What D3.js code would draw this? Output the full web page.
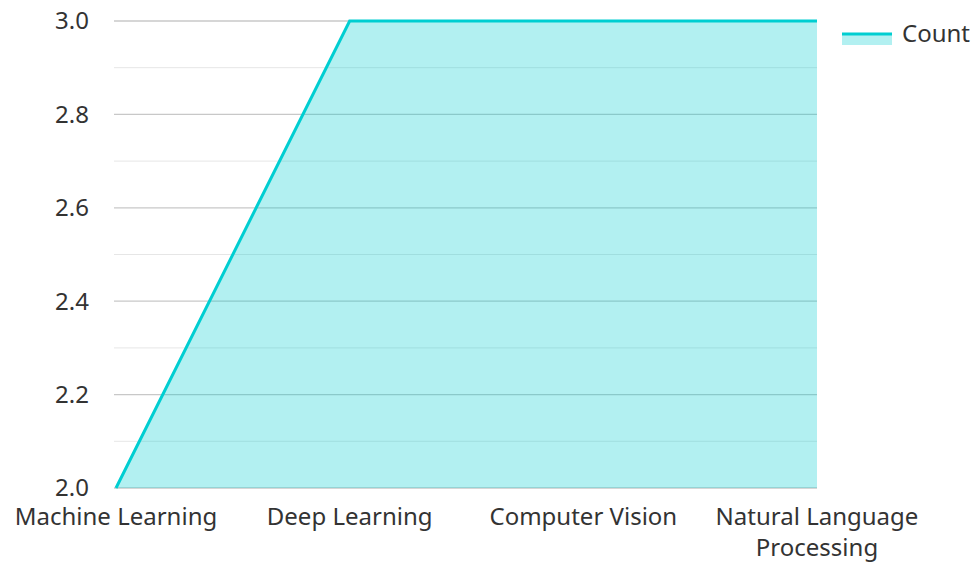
<!DOCTYPE html>
<html>
<head>
<meta charset="utf-8">
<script src="https://cdn.jsdelivr.net/npm/d3@7"></script>
<style>
  body { margin: 0; background: #fff; }
  text { font-family: "Noto Sans", "Open Sans", sans-serif; fill: #333; }
</style>
</head>
<body>
<svg id="chart"></svg>
<script>
const categories = ["Machine Learning", "Deep Learning", "Computer Vision", "Natural Language Processing"];
const counts = [2, 3, 3, 3];
const yTicks = [2.0, 2.2, 2.4, 2.6, 2.8, 3.0];
const yMinor = [2.1, 2.3, 2.5, 2.7, 2.9];
const seriesName = "Count";

const width = 975;
const height = 562;
const lineColor = "#00ced1";
const fontSize = "24px";

const svg = d3.select("#chart")
    .attr("width", width)
    .attr("height", height);

const x = d3.scalePoint()
    .domain(categories)
    .range([116, 817]);

const y = d3.scaleLinear()
    .domain([2, 3])
    .range([488, 21]);

const data = categories.map((c, i) => ({ cat: c, value: counts[i] }));

// grid
svg.append("g")
    .selectAll("line")
    .data(yMinor)
    .enter()
    .append("line")
    .attr("x1", 114).attr("x2", 817)
    .attr("y1", d => y(d)).attr("y2", d => y(d))
    .attr("stroke", "#e6e6e6")
    .attr("stroke-width", 1);

svg.append("g")
    .selectAll("line")
    .data(yTicks)
    .enter()
    .append("line")
    .attr("x1", 114).attr("x2", 817)
    .attr("y1", d => y(d)).attr("y2", d => y(d))
    .attr("stroke", "#c8c8c8")
    .attr("stroke-width", 1.3);

// y labels
svg.append("g")
    .selectAll("text")
    .data(yTicks)
    .enter()
    .append("text")
    .attr("x", 89)
    .attr("y", d => y(d))
    .attr("dy", "0.35em")
    .attr("text-anchor", "end")
    .attr("font-size", fontSize)
    .attr("fill", "#444")
    .text(d => d.toFixed(1));

// area + line
const area = d3.area()
    .x(d => x(d.cat))
    .y0(y(2))
    .y1(d => y(d.value));

const line = d3.line()
    .x(d => x(d.cat))
    .y(d => y(d.value));

svg.append("path")
    .datum(data)
    .attr("d", area)
    .attr("fill", lineColor)
    .attr("fill-opacity", 0.3);

svg.append("path")
    .datum(data)
    .attr("d", line)
    .attr("fill", "none")
    .attr("stroke", lineColor)
    .attr("stroke-width", 3);

// x labels (wrapped)
const xLabel = svg.append("g")
    .selectAll("text")
    .data(categories)
    .enter()
    .append("text")
    .attr("x", d => x(d))
    .attr("y", 525)
    .attr("text-anchor", "middle")
    .attr("font-size", fontSize);

xLabel.each(function(d) {
    const lines = d === "Natural Language Processing" ? ["Natural Language", "Processing"] : [d];
    d3.select(this).selectAll("tspan")
        .data(lines)
        .enter()
        .append("tspan")
        .attr("x", x(d))
        .attr("dy", (l, i) => i === 0 ? 0 : 31)
        .text(l => l);
});

// legend
const legend = svg.append("g");
legend.append("rect")
    .attr("x", 842).attr("y", 33)
    .attr("width", 50).attr("height", 12)
    .attr("fill", lineColor)
    .attr("fill-opacity", 0.3);
legend.append("line")
    .attr("x1", 842).attr("x2", 892)
    .attr("y1", 34).attr("y2", 34)
    .attr("stroke", lineColor)
    .attr("stroke-width", 3);
legend.append("text")
    .attr("x", 902)
    .attr("y", 34)
    .attr("dy", "0.35em")
    .attr("font-size", fontSize)
    .text(seriesName);
</script>
</body>
</html>
